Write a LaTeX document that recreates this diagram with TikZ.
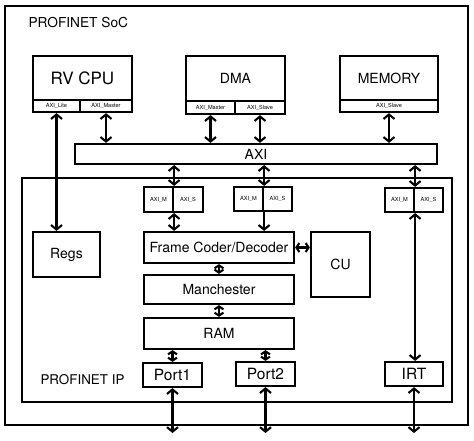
\documentclass[tikz,border=0pt]{standalone}
\usepackage{fontspec}
\setsansfont{TeX Gyre Heros}
\usetikzlibrary{arrows.meta}
\usetikzlibrary{positioning}
\usetikzlibrary{calc}
\tikzset{
  blk/.style = {rectangle, draw=black, line width=2.2pt, inner sep=0pt,
    font=\sffamily\fontsize{14}{16}\selectfont},
  cell/.style = {blk, font=\sffamily\fontsize{5.6}{6}\selectfont},% AXI ports
  link/.style = {line width=2.1pt},
  bus/.style = {link, {Straight Barb[length=4.5pt,width=11pt]}-{Straight Barb[length=4.5pt,width=11pt]}},
  sbus/.style = {link, {Straight Barb[length=3pt,width=9pt]}-{Straight Barb[length=3pt,width=9pt]}},% short ones
  shalf/.style = {link, -{Straight Barb[length=3pt,width=9pt]}},
  down/.style = {link, -{Straight Barb[length=4.5pt,width=11pt]}}
}

\begin{document}
\begin{tikzpicture}[x=1pt,y=-1pt]
\useasboundingbox (0,0) rectangle (474,440);

% SoC and IP frames
\node [draw, line width=2.5pt, minimum width=463pt, minimum height=419pt] (soc) at (236.5,215.5) {};
\node [draw, line width=2.2pt, minimum width=430pt, minimum height=224pt] (ip) at (237,290) {};
\node [anchor=west, font=\sffamily\fontsize{13.7}{16}\selectfont] (soclbl) at (25,22.5) {PROFINET SoC};
\node [anchor=west, font=\sffamily\fontsize{13.4}{16}\selectfont] (iplbl) at (37,380) {PROFINET IP};

% masters and slaves on top
\node [blk, minimum width=99pt, minimum height=44pt, font=\sffamily\fontsize{17}{18}\selectfont] (cpu) at (82.5,78) {RV CPU};
\node [cell, minimum width=47pt, minimum height=12pt] (lite) at (56.5,106) {AXI\_Lite};
\node [cell, minimum width=52pt, minimum height=12pt] (cpum) at (106,106) {AXI\_Master};
\node [blk, minimum width=99pt, minimum height=45pt] (dma) at (235.5,78.5) {DMA};
\node [cell, minimum width=49pt, minimum height=13pt] (dmam) at (210.5,107.5) {AXI\_Master};
\node [cell, minimum width=50pt, minimum height=13pt] (dmas) at (260,107.5) {AXI\_Slave};
\node [blk, minimum width=98pt, minimum height=44pt] (mem) at (389,78) {MEMORY};
\node [cell, minimum width=98pt, minimum height=12pt] (mems) at (389,106) {AXI\_Slave};

\node [blk, minimum width=362pt, minimum height=20pt] (axi) at (256,154) {AXI};

% AXI ports of the IP
\node [cell, minimum width=29pt, minimum height=25pt] (am1) at (158.5,199.5) {AXI\_M};
\node [cell, minimum width=30pt, minimum height=25pt] (as1) at (188,199.5) {AXI\_S};
\node [cell, minimum width=29pt, minimum height=24pt] (am2) at (248.5,199) {AXI\_M};
\node [cell, minimum width=29pt, minimum height=24pt] (as2) at (277.5,199) {AXI\_S};
\node [cell, minimum width=29pt, minimum height=24pt] (am3) at (399.5,200) {AXI\_M};
\node [cell, minimum width=29pt, minimum height=24pt] (as3) at (428.5,200) {AXI\_S};

% IP blocks
\node [blk, minimum width=67pt, minimum height=45pt] (regs) at (66.5,254.5) {Regs};
\node [blk, minimum width=150pt, minimum height=31pt] (coder) at (219,247.5) {Frame Coder/Decoder};
\node [blk, minimum width=59pt, minimum height=65pt] (cu) at (340.5,264.5) {CU};
\node [blk, minimum width=150pt, minimum height=29pt] (manch) at (219,289.5) {Manchester};
\node [blk, minimum width=150pt, minimum height=31pt] (ram) at (219,333.5) {RAM};
\node [blk, minimum width=59pt, minimum height=24pt, font=\sffamily\fontsize{15.5}{16}\selectfont] (port1) at (172.5,375) {Port1};
\node [blk, minimum width=59pt, minimum height=24pt, font=\sffamily\fontsize{15.5}{16}\selectfont] (port2) at (265.5,374) {Port2};
\node [blk, minimum width=58pt, minimum height=24pt, font=\sffamily\fontsize{15.5}{16}\selectfont] (irt) at (414,374) {IRT};

% free ends below the SoC
\coordinate (p1out) at (172.5,433);
\coordinate (p2out) at (265.5,433);
\coordinate (irtout) at (414,433);
% middles of the two short links in the stack
\coordinate (cm1) at ($(coder.south)!0.5!(manch.north)$);
\coordinate (cm2) at ($(manch.south)!0.5!(ram.north)$);

% connections
\draw [bus] (lite.south) -- (lite.south |- regs.north);
\draw [bus] (cpum.south) -- (cpum.south |- axi.north);
\draw [bus] (dmam.south) -- (dmam.south |- axi.north);
\draw [bus] (dmas.south) -- (dmas.south |- axi.north);
\draw [bus] (mems.south) -- (mems.south |- axi.north);
\draw [bus] (am1.north east |- axi.south) -- (am1.north east);
\draw [bus] (am2.north east |- axi.south) -- (am2.north east);
\draw [bus] (am3.north east |- axi.south) -- (am3.north east);
\draw [bus] (am1.south east) -- (am1.south east |- coder.north);
\draw [down] (am2.south east) -- (am2.south east |- coder.north);
\draw [bus] (am3.south east) -- (am3.south east |- irt.north);
\draw [sbus] (coder.east) -- (coder.east -| cu.west);
\draw [shalf] (cm1) -- (coder.south);
\draw [shalf] (cm1) -- (manch.north);
\draw [shalf] (cm2) -- (manch.south);
\draw [shalf] (cm2) -- (ram.north);
\draw [sbus] (port1.north |- ram.south) -- (port1.north);
\draw [sbus] (port2.north |- ram.south) -- (port2.north);
\draw [bus] (port1.south) -- (p1out);
\draw [bus] (port2.south) -- (p2out);
\draw [bus] (irt.south) -- (irtout);
\end{tikzpicture}
\end{document}
